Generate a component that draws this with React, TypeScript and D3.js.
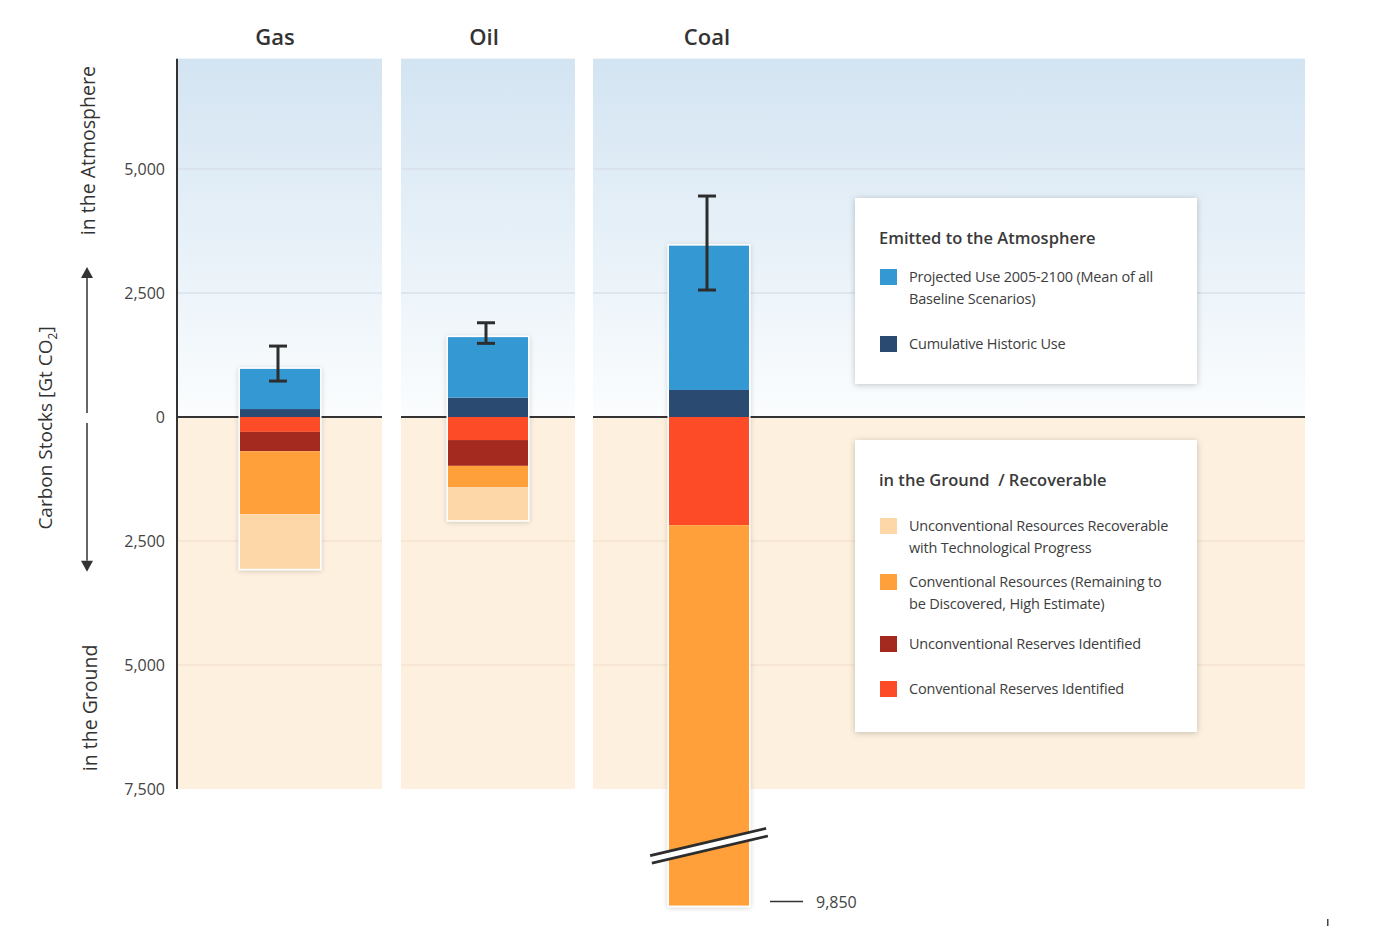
import * as d3 from 'd3';
import React from 'react';

// ---- data (Gt CO2) ----
const fuels = ['Gas', 'Oil', 'Coal'];
const historicUse = [160, 390, 545];
const projectedUse = [810, 1220, 2910];
const errorLow = [725, 1485, 2560];
const errorHigh = [1430, 1900, 4455];
const convReserves = [300, 465, 2180];
const unconvReserves = [390, 520, 0];
const convResources = [1270, 435, 7670];
const unconvResources = [1100, 660, 0];

const yTicks = [5000, 2500, 0, -2500, -5000, -7500];

const atmoItems = [
  { color: '#3498d2', lines: ['Projected Use 2005-2100 (Mean of all', 'Baseline Scenarios)'] },
  { color: '#2b4a72', lines: ['Cumulative Historic Use'] },
];
const groundItems = [
  { color: '#fed7a9', lines: ['Unconventional Resources Recoverable', 'with Technological Progress'] },
  { color: '#ffa03b', lines: ['Conventional Resources (Remaining to', 'be Discovered, High Estimate)'] },
  { color: '#a42a20', lines: ['Unconventional Reserves Identified'] },
  { color: '#fe4b27', lines: ['Conventional Reserves Identified'] },
];

const W = 1400;
const H = 943;
const panels = [
  { x0: 177, x1: 382, title: 275 },
  { x0: 401, x1: 575, title: 484 },
  { x0: 593, x1: 1305, title: 707 },
];
const barCenters = [280, 488, 709];
const barW = 80;

const sans = '"Open Sans", "Noto Sans", sans-serif';

export default function App() {
  const y = d3.scaleLinear().domain([-7500, 5000]).range([789, 169]);
  const panelTop = y(7225);
  const panelBottom = y(-7500);
  const zero = y(0);

  const fmt = d3.format(',');

  const segs: { fuel: number; a: number; b: number; color: string }[] = [];
  fuels.forEach((_, i) => {
    const up = [historicUse[i], projectedUse[i]];
    const upColors = ['#2b4a72', '#3498d2'];
    const upCum = Array.from(d3.cumsum(up));
    up.forEach((v, k) => {
      if (v > 0) segs.push({ fuel: i, a: upCum[k] - v, b: upCum[k], color: upColors[k] });
    });
    const down = [convReserves[i], unconvReserves[i], convResources[i], unconvResources[i]];
    const downColors = ['#fe4b27', '#a42a20', '#ffa03b', '#fed7a9'];
    const downCum = Array.from(d3.cumsum(down));
    down.forEach((v, k) => {
      if (v > 0) segs.push({ fuel: i, a: -downCum[k], b: -(downCum[k] - v), color: downColors[k] });
    });
  });

  const barExtent = fuels.map((_, i) => ({
    top: historicUse[i] + projectedUse[i],
    bottom: -(convReserves[i] + unconvReserves[i] + convResources[i] + unconvResources[i]),
  }));

  const coal = 2;
  const coalBottom = barExtent[coal].bottom;

  const renderLegend = (x: number, yTop: number, h: number, title: string, items: typeof atmoItems, rowYs: number[]) => (
    <g>
      <rect x={x} y={yTop} width={342} height={h} fill="#fff" filter="url(#shadow)" />
      <text x={x + 24} y={yTop + 46} fontFamily={sans} fontWeight={600} fontSize={16.5} fill="#3a3a3a" style={{ whiteSpace: 'pre' }}>{title}</text>
      {items.map((it, k) => (
        <g key={k}>
          <rect x={x + 25} y={rowYs[k] - 7} width={17} height={16} fill={it.color} />
          {it.lines.map((l, j) => (
            <text key={j} x={x + 54} y={rowYs[k] + 6 + j * 22} fontFamily={sans} fontSize={14.5} letterSpacing={-0.2} fill="#3d3d3d">{l}</text>
          ))}
        </g>
      ))}
    </g>
  );

  return (
    <svg width={W} height={H} style={{ position: 'absolute', left: 0, top: 0, background: '#fff' }}>
      <defs>
        <linearGradient id="atmo" x1="0" y1="0" x2="0" y2="1">
          <stop offset="0%" stopColor="#d3e4f2" />
          <stop offset="100%" stopColor="#fbfdfe" />
        </linearGradient>
        <filter id="shadow" x="-10%" y="-10%" width="120%" height="120%">
          <feDropShadow dx="0" dy="1" stdDeviation="3" floodColor="#000" floodOpacity="0.22" />
        </filter>
        <filter id="barShadow" x="-20%" y="-5%" width="140%" height="110%">
          <feDropShadow dx="0" dy="1" stdDeviation="2.5" floodColor="#000" floodOpacity="0.18" />
        </filter>
      </defs>

      {/* panels */}
      {panels.map((p, i) => (
        <g key={i}>
          <rect x={p.x0} y={panelTop} width={p.x1 - p.x0} height={zero - panelTop} fill="url(#atmo)" />
          <rect x={p.x0} y={zero} width={p.x1 - p.x0} height={panelBottom - zero} fill="#fdf0df" />
          {yTicks.filter(t => t !== 0 && t !== -7500).map(t => (
            <line key={t} x1={p.x0} x2={p.x1} y1={y(t)} y2={y(t)} stroke={t > 0 ? '#d8e1ea' : '#f3e3cf'} strokeWidth={1.5} />
          ))}
          <line x1={p.x0} x2={p.x1} y1={zero} y2={zero} stroke="#333" strokeWidth={2} />
          <text x={p.title} y={45} textAnchor="middle" fontFamily={sans} fontWeight={600} fontSize={22} fill="#333">{fuels[i]}</text>
        </g>
      ))}

      {/* y axis */}
      <line x1={177} x2={177} y1={panelTop} y2={panelBottom} stroke="#333" strokeWidth={2} />
      {yTicks.map(t => (
        <text key={t} x={165} y={y(t) + 6} textAnchor="end" fontFamily={sans} fontSize={16} fill="#444">{fmt(Math.abs(t))}</text>
      ))}

      {/* axis titles */}
      <text transform={`translate(52, ${zero + 11}) rotate(-90)`} textAnchor="middle" fontFamily={sans} fontSize={19} fill="#333">
        Carbon Stocks [Gt CO<tspan fontSize={12} dy={5}>2</tspan><tspan dy={-5}>]</tspan>
      </text>
      <text transform={`translate(95, ${y(5370)}) rotate(-90)`} textAnchor="middle" fontFamily={sans} fontSize={19.5} fill="#333">in the Atmosphere</text>
      <text transform={`translate(97, ${y(-5865)}) rotate(-90)`} textAnchor="middle" fontFamily={sans} fontSize={19.5} fill="#333">in the Ground</text>
      <line x1={87} x2={87} y1={zero - 4} y2={y(2800)} stroke="#333" strokeWidth={1.5} />
      <path d={`M81,${y(2800)} L87,${y(2800) - 11} L93,${y(2800)} Z`} fill="#333" />
      <line x1={87} x2={87} y1={zero + 6} y2={y(-2900)} stroke="#333" strokeWidth={1.5} />
      <path d={`M81,${y(-2900)} L87,${y(-2900) + 11} L93,${y(-2900)} Z`} fill="#333" />

      {/* bars */}
      {barExtent.map((e, i) => (
        <rect key={i} x={barCenters[i] - barW / 2 - 1.5} y={y(e.top) - 1.5} width={barW + 3} height={y(e.bottom) - y(e.top) + 3} fill="#fff" filter="url(#barShadow)" />
      ))}
      {segs.map((s, k) => (
        <rect key={k} x={barCenters[s.fuel] - barW / 2} y={y(s.b)} width={barW} height={y(s.a) - y(s.b)} fill={s.color} />
      ))}

      {/* error bars */}
      {fuels.map((_, i) => {
        const cx = barCenters[i] - 2;
        return (
          <g key={i} stroke="#2d2d2d" strokeWidth={3}>
            <line x1={cx} x2={cx} y1={y(errorHigh[i])} y2={y(errorLow[i])} />
            <line x1={cx - 9} x2={cx + 9} y1={y(errorHigh[i])} y2={y(errorHigh[i])} />
            <line x1={cx - 9} x2={cx + 9} y1={y(errorLow[i])} y2={y(errorLow[i])} />
          </g>
        );
      })}

      {/* axis break on coal */}
      <line x1={651} y1={y(-8920)} x2={767} y2={y(-8370)} stroke="#2d2d2d" strokeWidth={10.5} />
      <line x1={648} y1={y(-8920) + 0.7} x2={770} y2={y(-8370) - 0.7} stroke="#fff" strokeWidth={5} />
      <line x1={770} x2={803} y1={y(coalBottom) - 4} y2={y(coalBottom) - 4} stroke="#333" strokeWidth={1.5} />
      <text x={816} y={y(coalBottom) + 2} fontFamily={sans} fontSize={16} fill="#444">{fmt(Math.abs(coalBottom))}</text>

      {/* legends */}
      {renderLegend(855, 198, 186, 'Emitted to the Atmosphere', atmoItems, [276, 343])}
      {renderLegend(855, 440, 292, 'in the Ground  / Recoverable', groundItems, [525, 581, 643, 688])}

      <rect x={1327} y={919} width={1.5} height={7} fill="#444" />
    </svg>
  );
}
